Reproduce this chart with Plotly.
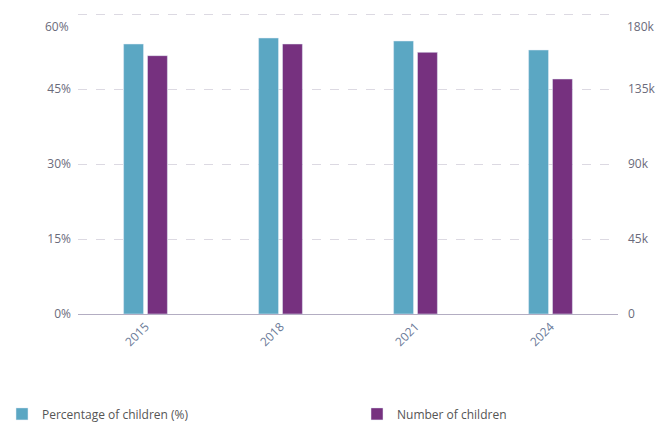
import plotly.graph_objects as go

years = ["2015", "2018", "2021", "2024"]
pct_children = [54.0, 55.2, 54.6, 52.8]
num_children = [155000, 162000, 157000, 141000]
left_ticks = [0, 15, 30, 45, 60]
left_labels = ["0%", "15%", "30%", "45%", ""]
right_ticks = [0, 45000, 90000, 135000, 180000]
right_labels = ["0", "45k", "90k", "135k", ""]

teal = "#5ba7c3"
purple = "#76317f"
font_family = "Open Sans, sans-serif"
tick_color = "#6b6b7b"

fig = go.Figure()
fig.add_trace(go.Bar(x=years, y=pct_children, name="Percentage of children (%)",
                     marker=dict(color=teal), offsetgroup="1", yaxis="y", legend="legend"))
fig.add_trace(go.Bar(x=years, y=num_children, name="Number of children",
                     marker=dict(color=purple), offsetgroup="2", yaxis="y2", legend="legend2"))

tickfont = dict(family=font_family, size=12, color=tick_color)
legend_common = dict(orientation="h", xanchor="left", yanchor="middle",
                     xref="container", yref="container", y=0.072,
                     font=dict(family=font_family, size=12, color="#555555"),
                     bgcolor="rgba(0,0,0,0)")
fig.update_layout(
    width=670, height=446,
    margin=dict(l=78, r=52, t=10, b=132, autoexpand=False),
    paper_bgcolor="white", plot_bgcolor="white",
    barmode="group", bargap=0.646, bargroupgap=0.167,
    font=dict(family=font_family),
    xaxis=dict(tickangle=-45, tickfont=dict(family=font_family, size=12, color="#6a7a98"),
               showline=True, linecolor="#b3adc2", linewidth=1, ticks="", showgrid=False),
    yaxis=dict(range=[0, 60.8], tickvals=left_ticks, ticktext=left_labels, tickfont=tickfont,
               showgrid=True, gridcolor="#dcd9e2", griddash="dash", gridwidth=1,
               zeroline=False, ticks="", ticklabelstandoff=6),
    yaxis2=dict(range=[0, 182400], tickvals=right_ticks, ticktext=right_labels, overlaying="y",
                side="right", tickfont=tickfont, showgrid=False, zeroline=False, ticks="",
                ticklabelstandoff=9),
    legend=dict(x=0.003, **legend_common),
    legend2=dict(x=357 / 670, **legend_common),
    showlegend=True,
)
# top tick labels sit a little below the top gridline, as in the reference
fig.add_annotation(x=0, xref="paper", y=left_ticks[-1], yref="y", text=f"{left_ticks[-1]}%",
                   showarrow=False, xanchor="right", yanchor="middle", xshift=-7, yshift=-12,
                   font=tickfont)
fig.add_annotation(x=1, xref="paper", y=right_ticks[-1], yref="y2", text="180k",
                   showarrow=False, xanchor="left", yanchor="middle", xshift=7, yshift=-12,
                   font=tickfont)
fig.write_html("out.html")
